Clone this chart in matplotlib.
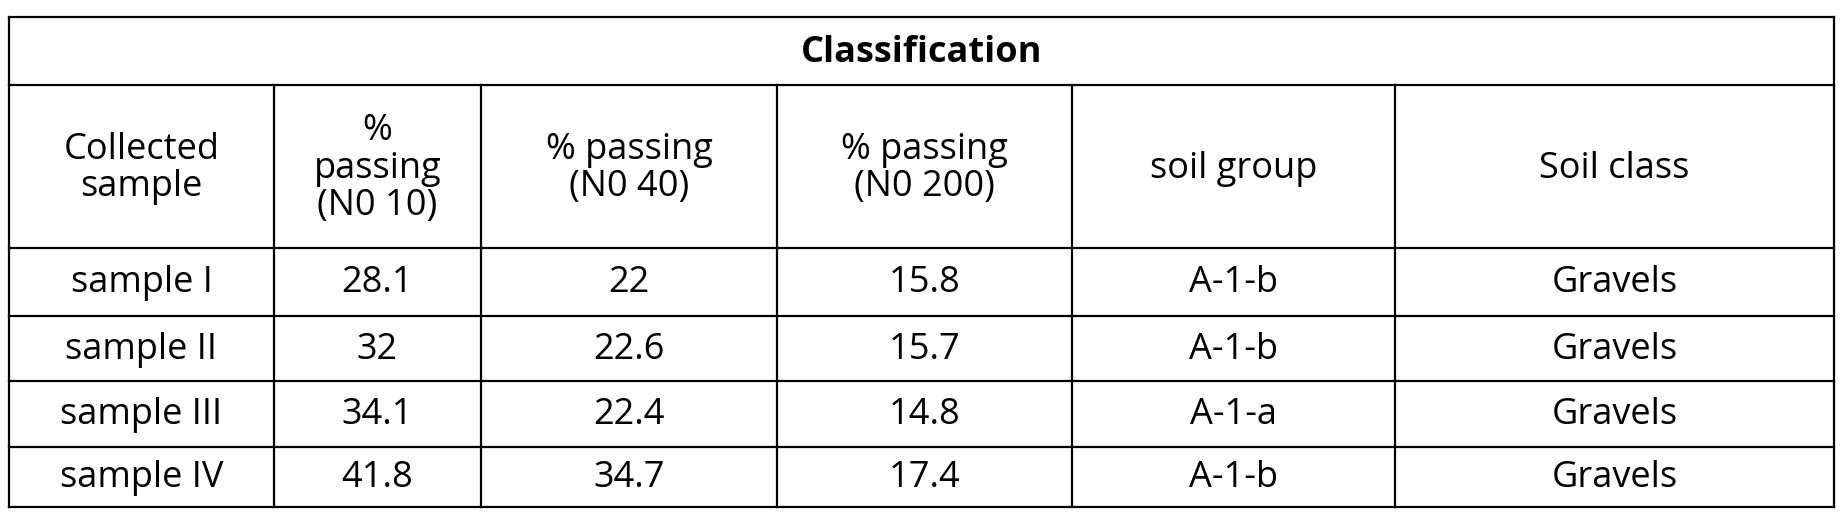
import matplotlib
matplotlib.use("Agg")
import matplotlib.pyplot as plt

title = "Classification"
headers = ["Collected\nsample", "%\npassing\n(N0 10)", "% passing\n(N0 40)", "% passing\n(N0 200)", "soil group", "Soil class"]
samples = ["sample I", "sample II", "sample III", "sample IV"]
pass10 = ["28.1", "32", "34.1", "41.8"]
pass40 = ["22", "22.6", "22.4", "34.7"]
pass200 = ["15.8", "15.7", "14.8", "17.4"]
groups = ["A-1-b", "A-1-b", "A-1-a", "A-1-b"]
classes = ["Gravels", "Gravels", "Gravels", "Gravels"]

fig = plt.figure(figsize=(18.41, 5.12), dpi=100)
ax = fig.add_axes([0, 0, 1, 1])
ax.set_xlim(0, 1568); ax.set_ylim(434, 0); ax.axis("off")

cols = [8, 233, 410, 662, 913, 1188, 1562]
rows = [14, 72, 210, 268, 323, 379, 430]
lw = 1.6
for y in rows:
    ax.plot([cols[0], cols[-1]], [y, y], color="black", lw=lw)
for x in [cols[0], cols[-1]]:
    ax.plot([x, x], [rows[0], rows[-1]], color="black", lw=lw)
for x in cols[1:-1]:
    ax.plot([x, x], [rows[1], rows[-1]], color="black", lw=lw)

fam = ["Open Sans", "DejaVu Sans"]
fs = 26
ax.text((cols[0]+cols[-1])/2, (rows[0]+rows[1])/2 + 2, title, ha="center", va="center",
        fontsize=fs, fontweight="bold", family=fam)
for i, h in enumerate(headers):
    ax.text((cols[i]+cols[i+1])/2, (rows[1]+rows[2])/2 + 2, h, ha="center", va="center",
            fontsize=fs, family=fam, linespacing=1.05)
data = list(zip(samples, pass10, pass40, pass200, groups, classes))
for r, rec in enumerate(data):
    for i, v in enumerate(rec):
        ax.text((cols[i]+cols[i+1])/2, (rows[r+2]+rows[r+3])/2 + 1, v, ha="center", va="center",
                fontsize=fs, family=fam)
fig.savefig("out.png", dpi=100, facecolor="white")
